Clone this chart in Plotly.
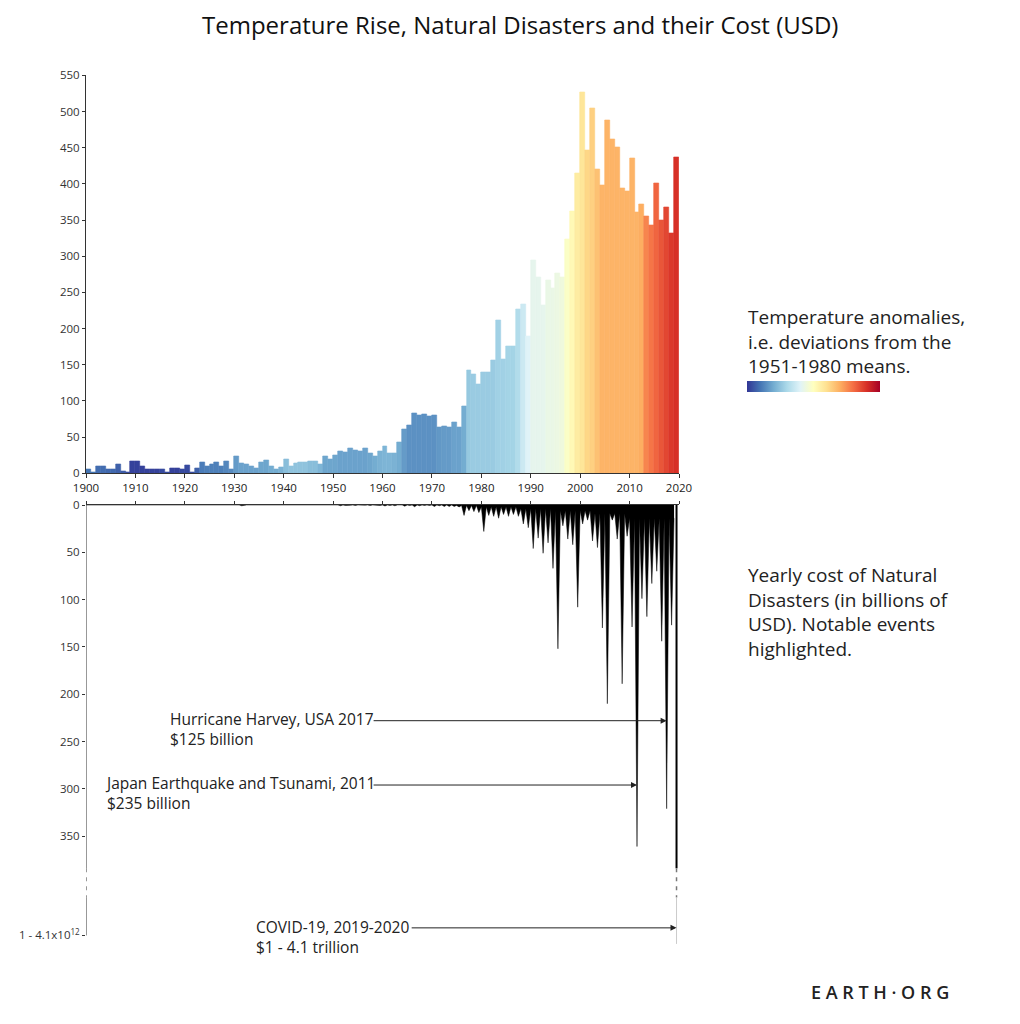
import plotly.graph_objects as go
import plotly.express as px

W, H = 1020, 1024
FONT = "Open Sans"
INK = "#222222"

# ---------------- data ----------------
years = list(range(1900, 2020))
disaster_counts = [
    6, 2, 9, 10, 5, 6, 12, 3, 1, 17,
    16, 9, 6, 6, 6, 6, 2, 7, 7, 5,
    11, 1, 7, 15, 9, 12, 15, 10, 16, 6,
    23, 14, 12, 10, 7, 15, 18, 9, 5, 8,
    19, 10, 14, 15, 15, 16, 16, 12, 24, 20,
    25, 30, 29, 35, 32, 31, 34, 27, 23, 31,
    38, 28, 28, 43, 61, 66, 83, 80, 81, 79,
    80, 64, 65, 63, 70, 64, 93, 143, 137, 123,
    139, 140, 156, 212, 157, 175, 175, 226, 233, 189,
    294, 271, 232, 267, 255, 277, 271, 323, 362, 414,
    526, 447, 505, 420, 398, 488, 462, 450, 394, 390,
    435, 361, 372, 355, 343, 401, 349, 367, 332, 436,
]
temp_anomaly = [
    -0.34, -0.34, -0.36, -0.36, -0.37, -0.37, -0.39, -0.40, -0.44, -0.47,
    -0.47, -0.47, -0.47, -0.47, -0.47, -0.45, -0.45, -0.47, -0.47, -0.45,
    -0.45, -0.44, -0.39, -0.32, -0.31, -0.31, -0.31, -0.31, -0.29, -0.28,
    -0.23, -0.21, -0.21, -0.21, -0.21, -0.20, -0.20, -0.18, -0.18, -0.16,
    -0.12, -0.10, -0.10, -0.10, -0.10, -0.12, -0.12, -0.15, -0.20, -0.20,
    -0.20, -0.21, -0.21, -0.21, -0.21, -0.21, -0.21, -0.20, -0.18, -0.16,
    -0.15, -0.15, -0.16, -0.18, -0.23, -0.26, -0.26, -0.26, -0.26, -0.26,
    -0.26, -0.24, -0.23, -0.23, -0.21, -0.21, -0.18, -0.08, -0.07, -0.07,
    -0.07, -0.07, -0.07, -0.05, -0.05, -0.04, -0.04, 0.00, 0.08, 0.14,
    0.17, 0.17, 0.17, 0.19, 0.19, 0.20, 0.22, 0.28, 0.33, 0.40,
    0.43, 0.49, 0.51, 0.56, 0.60, 0.60, 0.60, 0.60, 0.60, 0.60,
    0.60, 0.60, 0.62, 0.72, 0.76, 0.80, 0.84, 0.88, 0.92, 0.94,
]

cost_years = list(range(1900, 2019))
cost_bn = [
    0, 0, 0, 0, 0, 0, 0, 0, 0, 0,
    0, 0, 0, 0, 0, 0, 0, 0, 0, 0,
    0, 0, 0, 0, 0, 0, 0, 0, 0, 0,
    0, 0.8, 0, 0, 0, 0, 0, 0, 0, 0,
    0, 0, 0, 0, 0, 0.5, 0, 0, 0.5, 0,
    0, 0.8, 0.5, 0.3, 0.5, 0.3, 0.2, 0.5, 0.3, 0.5,
    1.0, 0.5, 0.8, 0.3, 1.2, 0.6, 1.8, 0.8, 0.5, 0.5,
    1.5, 0.8, 1.5, 1.5, 1.5, 2, 11, 6, 7, 8,
    28, 11, 12, 14, 10, 12, 10, 12, 20, 24,
    46, 35, 51, 40, 67, 152, 22, 36, 42, 108,
    20, 16, 38, 45, 130, 210, 16, 36, 189, 33,
    129, 361, 99, 118, 83, 70, 144, 321, 127,
]
# depth of the black band between yearly peaks (at each year boundary 1900..2019)
cost_trough_bn = (
    [0] * 75
    + [0.5] * 5
    + [2] * 8
    + [4] * 7
    + [6] * 8
    + [9] * 7
    + [14] * 10
)
covid_year = 2019
covid_cost_bn = 4100  # USD billions (upper estimate), off the linear scale

events = [
    ("Hurricane Harvey, USA 2017", "$125 billion", 2017),
    ("Japan Earthquake and Tsunami, 2011", "$235 billion", 2011),
    ("COVID-19, 2019-2020", "$1 - 4.1 trillion", covid_year),
]

decade_ticks = list(range(1900, 2030, 10))
count_ticks = list(range(0, 600, 50))
cost_ticks = list(range(0, 400, 50))

# ---------------- layout helpers ----------------
COST_AXIS_MAX = 470
BREAK_START, BREAK_END, BREAK_TICK = 384, 415, 455
COST_PX_PER_UNIT = 0.946


def fx(p):
    return p / W


def fy(p):
    return 1 - p / H


X_DOM = [fx(86), fx(679)]
TOP_DOM = [fy(473.3), fy(75.3)]
BOT_DOM = [fy(505 + COST_AXIS_MAX * COST_PX_PER_UNIT), fy(505)]

rdylbu = px.colors.diverging.RdYlBu[::-1]
cscale = [[i / (len(rdylbu) - 1), c] for i, c in enumerate(rdylbu)]

fig = go.Figure()

# ---- top: disaster counts coloured by temperature anomaly ----
fig.add_trace(go.Bar(
    x=years, y=disaster_counts, width=1, offset=0,
    marker=dict(
        color=temp_anomaly, colorscale=cscale, cmin=-0.5, cmax=1.1,
        line=dict(width=0.6, color=temp_anomaly, colorscale=cscale, cmin=-0.5, cmax=1.1),
        showscale=True,
        colorbar=dict(
            orientation="h", x=fx(747), xanchor="left", y=fy(381), yanchor="top",
            lenmode="pixels", len=133, thickness=11, thicknessmode="pixels",
            outlinewidth=0, showticklabels=False, ticks="", xpad=0, ypad=0,
        ),
    ),
    xaxis="x", yaxis="y", hoverinfo="x+y",
))

# ---- bottom: yearly cost spikes ----
sx, sy = [], []
for i, yr in enumerate(cost_years):
    sx += [yr, yr + 0.5]
    sy += [cost_trough_bn[i], cost_bn[i]]
sx.append(covid_year)
sy.append(cost_trough_bn[-1])
fig.add_trace(go.Scatter(
    x=sx, y=sy, mode="lines", fill="tozeroy", fillcolor="black",
    line=dict(color="black", width=0.5), xaxis="x2", yaxis="y2", hoverinfo="skip",
))

# COVID value drawn on the broken part of the axis
cx = covid_year + 0.5
fig.add_trace(go.Scatter(x=[cx, cx], y=[0, BREAK_START], mode="lines",
                         line=dict(color="black", width=2), xaxis="x2", yaxis="y2",
                         hoverinfo="skip"))
fig.add_trace(go.Scatter(x=[cx, cx], y=[BREAK_START, BREAK_END], mode="lines",
                         line=dict(color="#777", width=1.5, dash="4px,5px"), xaxis="x2", yaxis="y2",
                         hoverinfo="skip"))
fig.add_trace(go.Scatter(x=[cx, cx], y=[BREAK_END, BREAK_TICK + 9], mode="lines",
                         line=dict(color="#cccccc", width=1), xaxis="x2", yaxis="y2",
                         hoverinfo="skip"))

tickfont = dict(family=FONT, size=11.5, color="#333")

fig.update_layout(
    width=W, height=H, margin=dict(l=0, r=0, t=0, b=0, autoexpand=False),
    paper_bgcolor="white", plot_bgcolor="rgba(0,0,0,0)",
    showlegend=False, bargap=0,
    font=dict(family=FONT, color=INK),
    xaxis=dict(domain=X_DOM, range=[1900, 2020], anchor="y",
               tickvals=decade_ticks, ticks="outside", ticklen=4, tickcolor="#333",
               showline=True, linecolor="#333", linewidth=1, showgrid=False, zeroline=False,
               tickfont=dict(family=FONT, size=11.5, color="#222")),
    yaxis=dict(domain=TOP_DOM, range=[0, 550], anchor="x",
               tickvals=count_ticks, ticks="outside", ticklen=3, tickcolor="#333",
               showline=True, linecolor="#333", linewidth=1, showgrid=False, zeroline=False,
               tickfont=tickfont),
    xaxis2=dict(domain=X_DOM, range=[1900, 2020], anchor="y2", side="top",
                tickvals=decade_ticks, ticks="outside", ticklen=3, tickcolor="#333",
                showticklabels=False, showline=True, linecolor="#333", linewidth=1,
                showgrid=False, zeroline=False),
    yaxis2=dict(domain=BOT_DOM, range=[COST_AXIS_MAX, 0], anchor="x2",
                tickvals=cost_ticks + [BREAK_TICK],
                ticktext=[str(v) for v in cost_ticks] + ["1 - 4.1x10<sup>12</sup>"],
                ticks="outside", ticklen=3, tickcolor="#333",
                showline=False, showgrid=False, zeroline=False, tickfont=tickfont),
)

# broken y axis line for the cost panel
for y0, y1, dash in [(0, BREAK_START, "solid"), (BREAK_START, BREAK_END, "4px,5px"),
                     (BREAK_END, BREAK_TICK, "solid")]:
    fig.add_shape(type="line", xref="x2", yref="y2", x0=1900, x1=1900, y0=y0, y1=y1,
                  line=dict(color="#333", width=1, dash=dash))

ann = []
ann.append(dict(text="Temperature Rise, Natural Disasters and their Cost (USD)",
                x=fx(520), y=fy(24), xref="paper", yref="paper", showarrow=False,
                xanchor="center", yanchor="middle", font=dict(size=24, color="#111")))
ann.append(dict(text="Temperature anomalies,<br>i.e. deviations from the<br>1951-1980 means.",
                x=fx(746), y=fy(302), xref="paper", yref="paper", showarrow=False,
                xanchor="left", yanchor="top", align="left", font=dict(size=19, color="#222")))
ann.append(dict(text="Yearly cost of Natural<br>Disasters (in billions of<br>USD). Notable events<br>highlighted.",
                x=fx(746), y=fy(560), xref="paper", yref="paper", showarrow=False,
                xanchor="left", yanchor="top", align="left", font=dict(size=19, color="#222")))
ann.append(dict(text="E A R T H · O R G", x=fx(880), y=fy(992), xref="paper", yref="paper",
                showarrow=False, xanchor="center", yanchor="middle",
                font=dict(size=18, color="#222", weight=600)))

text_pos = [(168, 706), (103, 770), (254, 914)]
arrow_y = [228, 296, 447]
arrow_tail = [1957.9, 1957.9, 1965.6]
for (l1, l2, yr), (tx, ty), ay, ax in zip(events, text_pos, arrow_y, arrow_tail):
    ann.append(dict(text=l1 + "<br>" + l2, x=fx(tx), y=fy(ty), xref="paper", yref="paper",
                    showarrow=False, xanchor="left", yanchor="top", align="left",
                    font=dict(size=15.5, color="#222")))
    ann.append(dict(text="", x=yr + 0.5, y=ay, xref="x2", yref="y2", ax=ax, ay=ay,
                    axref="x2", ayref="y2", showarrow=True, arrowhead=2, arrowsize=1.2,
                    arrowwidth=1, arrowcolor="#222", standoff=0))
fig.update_layout(annotations=ann)

fig.write_html("out.html")
